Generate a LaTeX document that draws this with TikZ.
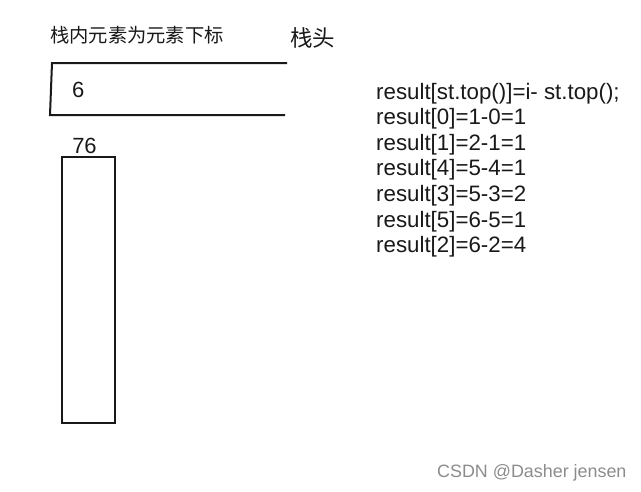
\documentclass[tikz,border=0pt]{standalone}
\usepackage{fontspec}
\setmainfont{Liberation Sans}
\newfontfamily\cjkfont{Noto Sans CJK SC}
\usetikzlibrary{positioning}
\tikzstyle{wall}=[
	line width=2pt,
	draw=black!90
]
\tikzstyle{note}=[
	anchor=base west,
	inner sep=0pt,
	text=black!90
]
\tikzstyle{codeline}=[
	anchor=base west,
	inner sep=0pt,
	text=black!90,
	font=\fontsize{22.3}{25}\selectfont
]
\tikzstyle{stackbox}=[
	rectangle,
	wall,
	minimum width=53pt,
	minimum height=266pt,
	inner sep=0pt
]

\begin{document}
\begin{tikzpicture}[x=1pt,y=-1pt]
\useasboundingbox (0,0) rectangle (641,491);
\node [note, font=\cjkfont\fontsize{19.3}{19.3}\selectfont] (hint) at (50,42) {栈内元素为元素下标};
\node [note, font=\cjkfont\fontsize{22.5}{22.5}\selectfont] (head) at (290,46.5) {栈头};
% open stack, top side
\coordinate (ta) at (287,63);
\coordinate (tb) at (52,63);
\coordinate (tc) at (50,115);
\coordinate (td) at (285,115);
\draw [wall] (ta) -- (tb) -- (tc) -- (td);
\node [note, font=\fontsize{22}{22}\selectfont] (top) at (72,97) {6};
% stack body
\node [stackbox] (stack) at (88.5,290) {};
\node [note, font=\fontsize{22}{22}\selectfont, anchor=base] (count) at (84.5,153) {76};
% results
\foreach \txt [count=\i] in {{result[st.top()]=i- st.top();},{result[0]=1-0=1},{result[1]=2-1=1},{result[4]=5-4=1},{result[3]=5-3=2},{result[5]=6-5=1},{result[2]=6-2=4}}
	\node [codeline] (res\i) at (376,99+25.6*\i-25.6) {\txt};
\node [note, text=black!45, font=\fontsize{17.9}{17.9}\selectfont] (mark) at (437,477) {CSDN @Dasher jensen};
\end{tikzpicture}
\end{document}
